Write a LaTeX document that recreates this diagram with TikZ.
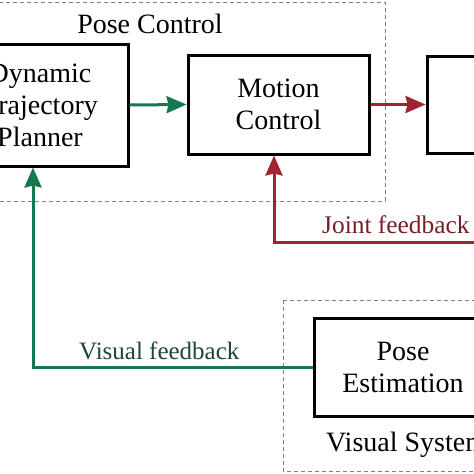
\documentclass[tikz,border=0pt]{standalone}
\usepackage{fontspec}
\setmainfont{Liberation Serif}
\usetikzlibrary{arrows.meta}
\definecolor{fbgreen}{RGB}{22,120,78}
\definecolor{fbred}{RGB}{160,35,50}
\definecolor{fbgreentext}{RGB}{30,70,55}
\definecolor{fbredtext}{RGB}{120,30,40}
\tikzset{
  blockbox/.style={draw=black, line width=3pt, fill=white, inner sep=0pt, align=center,
    font=\fontsize{28}{32}\selectfont},
  regionbox/.style={draw=gray, line width=1pt, dash pattern=on 4pt off 3pt},
  regionlabel/.style={font=\fontsize{28}{32}\selectfont, inner sep=0pt},
  greenarrow/.style={draw=fbgreen, line width=3pt, -{Stealth[length=20pt,width=17pt,inset=2pt]}},
  redarrow/.style={draw=fbred, line width=3pt, -{Stealth[length=20pt,width=17pt,inset=2pt]}},
  greenlabel/.style={font=\fontsize{25}{29}\selectfont, text=fbgreentext, inner sep=0pt},
  redlabel/.style={font=\fontsize{25.4}{29}\selectfont, text=fbredtext, inner sep=0pt},
}
\begin{document}
\begin{tikzpicture}[x=1pt,y=-1pt]
\useasboundingbox (0,0) rectangle (474,474);
\clip (0,0) rectangle (474,474);
% regions
\draw[regionbox] (-60,2) rectangle (385,201);
\node[regionlabel] (posectl) at (150,24) {Pose Control};
\draw[regionbox] (283,300) rectangle (520,471);
\node[regionlabel, anchor=west] (vissys) at (326,445) {Visual System};
% blocks
\node[blockbox, minimum width=176pt, minimum height=122pt] (planner) at (40,105) {Dynamic\\Trajectory\\Planner};
\node[blockbox, minimum width=181pt, minimum height=99pt] (motion) at (278.5,104.5) {Motion\\Control};
\node[blockbox, minimum width=120pt, minimum height=97pt] (robot) at (487,104.5) {};
\node[blockbox, minimum width=178pt, minimum height=98pt] (poseest) at (403,367) {Pose\\Estimation};
% coordinates
\coordinate (jr) at (490,242);
\coordinate (jc) at (274,242);
\coordinate (vc) at (33,367);
% connectors
\draw[greenarrow] (planner.east) -- (motion.west);
\draw[redarrow] (motion.east) -- (robot.west);
\draw[redarrow] (jr) -- (jc) -- (motion.south -| jc);
\draw[greenarrow] (poseest.west) -- (vc) -- (planner.south -| vc);
% labels
\node[redlabel, anchor=west] (jlabel) at (322,225) {Joint feedback};
\node[greenlabel, anchor=west] (vlabel) at (79,351) {Visual feedback};
\end{tikzpicture}
\end{document}
